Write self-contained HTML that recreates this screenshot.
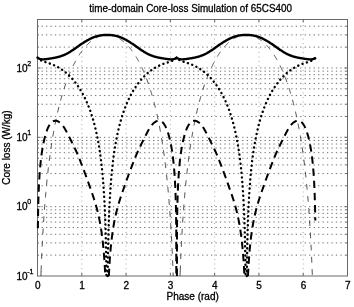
<!DOCTYPE html>
<html><head><meta charset="utf-8"><title>time-domain Core-loss Simulation of 65CS400</title>
<style>html,body{margin:0;padding:0;background:#fff;}body{width:354px;height:307px;overflow:hidden;}svg{display:block;filter:blur(0.35px);}text{font-family:"Liberation Sans",Arial,Helvetica,sans-serif;fill:#000;stroke:#000;stroke-width:0.3px;}</style></head><body>
<svg width="354" height="307" viewBox="0 0 354 307">
<rect x="0" y="0" width="354" height="307" fill="#fff"/>
<g stroke="#707070" stroke-width="1" stroke-dasharray="1.3 3.16" fill="none">
<path d="M41.51 255.13 H347.50"/>
<path d="M41.51 242.91 H347.50"/>
<path d="M41.51 234.25 H347.50"/>
<path d="M41.51 227.53 H347.50"/>
<path d="M41.51 222.04 H347.50"/>
<path d="M41.51 217.40 H347.50"/>
<path d="M41.51 213.38 H347.50"/>
<path d="M41.51 209.83 H347.50"/>
<path d="M41.51 206.66 H347.50"/>
<path d="M41.51 185.78 H347.50"/>
<path d="M41.51 173.57 H347.50"/>
<path d="M41.51 164.91 H347.50"/>
<path d="M41.51 158.19 H347.50"/>
<path d="M41.51 152.70 H347.50"/>
<path d="M41.51 148.05 H347.50"/>
<path d="M41.51 144.03 H347.50"/>
<path d="M41.51 140.49 H347.50"/>
<path d="M41.51 137.31 H347.50"/>
<path d="M41.51 116.44 H347.50"/>
<path d="M41.51 104.23 H347.50"/>
<path d="M41.51 95.56 H347.50"/>
<path d="M41.51 88.84 H347.50"/>
<path d="M41.51 83.35 H347.50"/>
<path d="M41.51 78.71 H347.50"/>
<path d="M41.51 74.69 H347.50"/>
<path d="M41.51 71.14 H347.50"/>
<path d="M41.51 67.97 H347.50"/>
<path d="M41.51 47.09 H347.50"/>
<path d="M41.51 34.88 H347.50"/>
<path d="M41.51 26.22 H347.50"/>
</g>
<g stroke="#aaa" stroke-width="1" stroke-dasharray="1 3.5" fill="none">
<path d="M81.79 20.50 V276.00"/>
<path d="M126.07 20.50 V276.00"/>
<path d="M170.36 20.50 V276.00"/>
<path d="M214.64 20.50 V276.00"/>
<path d="M258.93 20.50 V276.00"/>
<path d="M303.21 20.50 V276.00"/>
</g>
<g stroke="#686868" stroke-width="1" fill="none">
<rect x="37.50" y="19.50" width="310.00" height="256.50"/>
<path d="M81.79 276.00 v-3 M81.79 19.50 v3"/>
<path d="M126.07 276.00 v-3 M126.07 19.50 v3"/>
<path d="M170.36 276.00 v-3 M170.36 19.50 v3"/>
<path d="M214.64 276.00 v-3 M214.64 19.50 v3"/>
<path d="M258.93 276.00 v-3 M258.93 19.50 v3"/>
<path d="M303.21 276.00 v-3 M303.21 19.50 v3"/>
<path d="M37.50 255.13 h1.5 M347.50 255.13 h-1.5"/>
<path d="M37.50 242.91 h1.5 M347.50 242.91 h-1.5"/>
<path d="M37.50 234.25 h1.5 M347.50 234.25 h-1.5"/>
<path d="M37.50 227.53 h1.5 M347.50 227.53 h-1.5"/>
<path d="M37.50 222.04 h1.5 M347.50 222.04 h-1.5"/>
<path d="M37.50 217.40 h1.5 M347.50 217.40 h-1.5"/>
<path d="M37.50 213.38 h1.5 M347.50 213.38 h-1.5"/>
<path d="M37.50 209.83 h1.5 M347.50 209.83 h-1.5"/>
<path d="M37.50 206.66 h3.0 M347.50 206.66 h-3.0"/>
<path d="M37.50 185.78 h1.5 M347.50 185.78 h-1.5"/>
<path d="M37.50 173.57 h1.5 M347.50 173.57 h-1.5"/>
<path d="M37.50 164.91 h1.5 M347.50 164.91 h-1.5"/>
<path d="M37.50 158.19 h1.5 M347.50 158.19 h-1.5"/>
<path d="M37.50 152.70 h1.5 M347.50 152.70 h-1.5"/>
<path d="M37.50 148.05 h1.5 M347.50 148.05 h-1.5"/>
<path d="M37.50 144.03 h1.5 M347.50 144.03 h-1.5"/>
<path d="M37.50 140.49 h1.5 M347.50 140.49 h-1.5"/>
<path d="M37.50 137.31 h3.0 M347.50 137.31 h-3.0"/>
<path d="M37.50 116.44 h1.5 M347.50 116.44 h-1.5"/>
<path d="M37.50 104.23 h1.5 M347.50 104.23 h-1.5"/>
<path d="M37.50 95.56 h1.5 M347.50 95.56 h-1.5"/>
<path d="M37.50 88.84 h1.5 M347.50 88.84 h-1.5"/>
<path d="M37.50 83.35 h1.5 M347.50 83.35 h-1.5"/>
<path d="M37.50 78.71 h1.5 M347.50 78.71 h-1.5"/>
<path d="M37.50 74.69 h1.5 M347.50 74.69 h-1.5"/>
<path d="M37.50 71.14 h1.5 M347.50 71.14 h-1.5"/>
<path d="M37.50 67.97 h3.0 M347.50 67.97 h-3.0"/>
<path d="M37.50 47.09 h1.5 M347.50 47.09 h-1.5"/>
<path d="M37.50 34.88 h1.5 M347.50 34.88 h-1.5"/>
<path d="M37.50 26.22 h1.5 M347.50 26.22 h-1.5"/>
</g>
<g fill="none" stroke="#333" stroke-width="0.85" stroke-dashoffset="7.4">
<path d="M40.91 276.00 L40.98 274.13 L41.33 265.20 L41.67 257.04 L42.02 249.55 L42.37 242.61 L42.72 236.15 L43.07 230.12 L43.41 224.46 L43.76 219.12 L44.11 214.07 L44.46 209.29 L44.80 204.75 L45.15 200.42 L45.50 196.28 L45.85 192.33 L46.20 188.54 L46.54 184.91 L46.89 181.41 L47.24 178.05 L47.59 174.81 L47.93 171.68 L48.28 168.66 L48.63 165.73 L48.98 162.91 L49.33 160.17 L49.67 157.51 L50.02 154.93 L50.37 152.43 L50.72 150.00 L51.06 147.63 L51.41 145.33 L51.76 143.09 L52.11 140.90 L52.46 138.77 L52.80 136.70 L53.15 134.67 L53.50 132.70 L53.85 130.77 L54.20 128.88 L54.54 127.04 L54.89 125.24 L55.24 123.48 L55.59 121.75 L55.93 120.06 L56.28 118.41 L56.63 116.80 L56.98 115.21 L57.33 113.66 L57.67 112.14 L58.02 110.65 L58.37 109.18 L58.72 107.75 L59.06 106.34 L59.41 104.96 L59.76 103.61 L60.11 102.28 L60.46 100.97 L60.80 99.69 L61.15 98.43 L61.50 97.19 L61.85 95.98 L62.20 94.78 L62.54 93.61 L62.89 92.46 L63.24 91.32 L63.59 90.21 L63.93 89.12 L64.28 88.04 L64.63 86.98 L64.98 85.94 L65.33 84.91 L65.67 83.91 L66.02 82.92 L66.37 81.94 L66.72 80.98 L67.06 80.04 L67.41 79.11 L67.76 78.20 L68.11 77.30 L68.46 76.41 L68.80 75.54 L69.15 74.68 L69.50 73.84 L69.85 73.01 L70.20 72.19 L70.54 71.39 L70.89 70.60 L71.24 69.82 L71.59 69.05 L71.93 68.29 L72.28 67.55 L72.63 66.82 L72.98 66.10 L73.33 65.39 L73.67 64.69 L74.02 64.00 L74.37 63.32 L74.72 62.66 L75.06 62.00 L75.41 61.36 L75.76 60.72 L76.11 60.10 L76.46 59.48 L76.80 58.87 L77.15 58.28 L77.50 57.69 L77.85 57.11 L78.19 56.55 L78.54 55.99 L78.89 55.44 L79.24 54.90 L79.59 54.37 L79.93 53.84 L80.28 53.33 L80.63 52.82 L80.98 52.33 L81.33 51.84 L81.67 51.36 L82.02 50.88 L82.37 50.42 L82.72 49.96 L83.06 49.52 L83.41 49.07 L83.76 48.64 L84.11 48.22 L84.46 47.80 L84.80 47.39 L85.15 46.99 L85.50 46.59 L85.85 46.21 L86.19 45.83 L86.54 45.46 L86.89 45.09 L87.24 44.73 L87.59 44.38 L87.93 44.04 L88.28 43.70 L88.63 43.37 L88.98 43.05 L89.33 42.73 L89.67 42.42 L90.02 42.12 L90.37 41.83 L90.72 41.54 L91.06 41.25 L91.41 40.98 L91.76 40.71 L92.11 40.45 L92.46 40.19 L92.80 39.94 L93.15 39.70 L93.50 39.46 L93.85 39.23 L94.19 39.01 L94.54 38.79 L94.89 38.58 L95.24 38.38 L95.59 38.18 L95.93 37.98 L96.28 37.80 L96.63 37.62 L96.98 37.44 L97.32 37.27 L97.67 37.11 L98.02 36.96 L98.37 36.81 L98.72 36.66 L99.06 36.53 L99.41 36.39 L99.76 36.27 L100.11 36.15 L100.46 36.03 L100.80 35.93 L101.15 35.82 L101.50 35.73 L101.85 35.64 L102.19 35.55 L102.54 35.47 L102.89 35.40 L103.24 35.34 L103.59 35.27 L103.93 35.22 L104.28 35.17 L104.63 35.13 L104.98 35.09 L105.32 35.06 L105.67 35.03 L106.02 35.01 L106.37 35.00 L106.72 34.99 L107.06 34.98 L107.41 34.99 L107.76 35.00 L108.11 35.01 L108.46 35.03 L108.80 35.06 L109.15 35.09 L109.50 35.13 L109.85 35.17 L110.19 35.22 L110.54 35.27 L110.89 35.34 L111.24 35.40 L111.59 35.47 L111.93 35.55 L112.28 35.64 L112.63 35.73 L112.98 35.82 L113.32 35.93 L113.67 36.03 L114.02 36.15 L114.37 36.27 L114.72 36.39 L115.06 36.53 L115.41 36.66 L115.76 36.81 L116.11 36.96 L116.45 37.11 L116.80 37.27 L117.15 37.44 L117.50 37.62 L117.85 37.80 L118.19 37.98 L118.54 38.18 L118.89 38.38 L119.24 38.58 L119.59 38.79 L119.93 39.01 L120.28 39.23 L120.63 39.46 L120.98 39.70 L121.32 39.94 L121.67 40.19 L122.02 40.45 L122.37 40.71 L122.72 40.98 L123.06 41.25 L123.41 41.54 L123.76 41.83 L124.11 42.12 L124.45 42.42 L124.80 42.73 L125.15 43.05 L125.50 43.37 L125.85 43.70 L126.19 44.04 L126.54 44.38 L126.89 44.73 L127.24 45.09 L127.59 45.46 L127.93 45.83 L128.28 46.21 L128.63 46.59 L128.98 46.99 L129.32 47.39 L129.67 47.80 L130.02 48.22 L130.37 48.64 L130.72 49.07 L131.06 49.52 L131.41 49.96 L131.76 50.42 L132.11 50.88 L132.45 51.36 L132.80 51.84 L133.15 52.33 L133.50 52.82 L133.85 53.33 L134.19 53.84 L134.54 54.37 L134.89 54.90 L135.24 55.44 L135.59 55.99 L135.93 56.55 L136.28 57.11 L136.63 57.69 L136.98 58.28 L137.32 58.87 L137.67 59.48 L138.02 60.10 L138.37 60.72 L138.72 61.36 L139.06 62.00 L139.41 62.66 L139.76 63.32 L140.11 64.00 L140.45 64.69 L140.80 65.39 L141.15 66.10 L141.50 66.82 L141.85 67.55 L142.19 68.29 L142.54 69.05 L142.89 69.82 L143.24 70.60 L143.58 71.39 L143.93 72.19 L144.28 73.01 L144.63 73.84 L144.98 74.68 L145.32 75.54 L145.67 76.41 L146.02 77.30 L146.37 78.20 L146.72 79.11 L147.06 80.04 L147.41 80.98 L147.76 81.94 L148.11 82.92 L148.45 83.91 L148.80 84.91 L149.15 85.94 L149.50 86.98 L149.85 88.04 L150.19 89.12 L150.54 90.21 L150.89 91.32 L151.24 92.46 L151.58 93.61 L151.93 94.78 L152.28 95.98 L152.63 97.19 L152.98 98.43 L153.32 99.69 L153.67 100.97 L154.02 102.28 L154.37 103.61 L154.72 104.96 L155.06 106.34 L155.41 107.75 L155.76 109.18 L156.11 110.65 L156.45 112.14 L156.80 113.66 L157.15 115.21 L157.50 116.80 L157.85 118.41 L158.19 120.06 L158.54 121.75 L158.89 123.48 L159.24 125.24 L159.58 127.04 L159.93 128.88 L160.28 130.77 L160.63 132.70 L160.98 134.67 L161.32 136.70 L161.67 138.77 L162.02 140.90 L162.37 143.09 L162.71 145.33 L163.06 147.63 L163.41 150.00 L163.76 152.43 L164.11 154.93 L164.45 157.51 L164.80 160.17 L165.15 162.91 L165.50 165.73 L165.85 168.66 L166.19 171.68 L166.54 174.81 L166.89 178.05 L167.24 181.41 L167.58 184.91 L167.93 188.54 L168.28 192.33 L168.63 196.28 L168.98 200.42 L169.32 204.75 L169.67 209.29 L170.02 214.07 L170.37 219.12 L170.71 224.46 L171.06 230.12 L171.41 236.15 L171.76 242.61 L172.11 249.55 L172.45 257.04 L172.80 265.20 L173.15 274.13 L173.22 276.00" stroke-dasharray="5.8 6.48"/>
<path d="M180.04 276.00 L180.11 274.13 L180.45 265.20 L180.80 257.04 L181.15 249.55 L181.50 242.61 L181.84 236.15 L182.19 230.12 L182.54 224.46 L182.89 219.12 L183.24 214.07 L183.58 209.29 L183.93 204.75 L184.28 200.42 L184.63 196.28 L184.98 192.33 L185.32 188.54 L185.67 184.91 L186.02 181.41 L186.37 178.05 L186.71 174.81 L187.06 171.68 L187.41 168.66 L187.76 165.73 L188.11 162.91 L188.45 160.17 L188.80 157.51 L189.15 154.93 L189.50 152.43 L189.84 150.00 L190.19 147.63 L190.54 145.33 L190.89 143.09 L191.24 140.90 L191.58 138.77 L191.93 136.70 L192.28 134.67 L192.63 132.70 L192.98 130.77 L193.32 128.88 L193.67 127.04 L194.02 125.24 L194.37 123.48 L194.71 121.75 L195.06 120.06 L195.41 118.41 L195.76 116.80 L196.11 115.21 L196.45 113.66 L196.80 112.14 L197.15 110.65 L197.50 109.18 L197.84 107.75 L198.19 106.34 L198.54 104.96 L198.89 103.61 L199.24 102.28 L199.58 100.97 L199.93 99.69 L200.28 98.43 L200.63 97.19 L200.98 95.98 L201.32 94.78 L201.67 93.61 L202.02 92.46 L202.37 91.32 L202.71 90.21 L203.06 89.12 L203.41 88.04 L203.76 86.98 L204.11 85.94 L204.45 84.91 L204.80 83.91 L205.15 82.92 L205.50 81.94 L205.84 80.98 L206.19 80.04 L206.54 79.11 L206.89 78.20 L207.24 77.30 L207.58 76.41 L207.93 75.54 L208.28 74.68 L208.63 73.84 L208.97 73.01 L209.32 72.19 L209.67 71.39 L210.02 70.60 L210.37 69.82 L210.71 69.05 L211.06 68.29 L211.41 67.55 L211.76 66.82 L212.11 66.10 L212.45 65.39 L212.80 64.69 L213.15 64.00 L213.50 63.32 L213.84 62.66 L214.19 62.00 L214.54 61.36 L214.89 60.72 L215.24 60.10 L215.58 59.48 L215.93 58.87 L216.28 58.28 L216.63 57.69 L216.97 57.11 L217.32 56.55 L217.67 55.99 L218.02 55.44 L218.37 54.90 L218.71 54.37 L219.06 53.84 L219.41 53.33 L219.76 52.82 L220.11 52.33 L220.45 51.84 L220.80 51.36 L221.15 50.88 L221.50 50.42 L221.84 49.96 L222.19 49.52 L222.54 49.07 L222.89 48.64 L223.24 48.22 L223.58 47.80 L223.93 47.39 L224.28 46.99 L224.63 46.59 L224.97 46.21 L225.32 45.83 L225.67 45.46 L226.02 45.09 L226.37 44.73 L226.71 44.38 L227.06 44.04 L227.41 43.70 L227.76 43.37 L228.10 43.05 L228.45 42.73 L228.80 42.42 L229.15 42.12 L229.50 41.83 L229.84 41.54 L230.19 41.25 L230.54 40.98 L230.89 40.71 L231.24 40.45 L231.58 40.19 L231.93 39.94 L232.28 39.70 L232.63 39.46 L232.97 39.23 L233.32 39.01 L233.67 38.79 L234.02 38.58 L234.37 38.38 L234.71 38.18 L235.06 37.98 L235.41 37.80 L235.76 37.62 L236.10 37.44 L236.45 37.27 L236.80 37.11 L237.15 36.96 L237.50 36.81 L237.84 36.66 L238.19 36.53 L238.54 36.39 L238.89 36.27 L239.24 36.15 L239.58 36.03 L239.93 35.93 L240.28 35.82 L240.63 35.73 L240.97 35.64 L241.32 35.55 L241.67 35.47 L242.02 35.40 L242.37 35.34 L242.71 35.27 L243.06 35.22 L243.41 35.17 L243.76 35.13 L244.10 35.09 L244.45 35.06 L244.80 35.03 L245.15 35.01 L245.50 35.00 L245.84 34.99 L246.19 34.98 L246.54 34.99 L246.89 35.00 L247.23 35.01 L247.58 35.03 L247.93 35.06 L248.28 35.09 L248.63 35.13 L248.97 35.17 L249.32 35.22 L249.67 35.27 L250.02 35.34 L250.37 35.40 L250.71 35.47 L251.06 35.55 L251.41 35.64 L251.76 35.73 L252.10 35.82 L252.45 35.93 L252.80 36.03 L253.15 36.15 L253.50 36.27 L253.84 36.39 L254.19 36.53 L254.54 36.66 L254.89 36.81 L255.23 36.96 L255.58 37.11 L255.93 37.27 L256.28 37.44 L256.63 37.62 L256.97 37.80 L257.32 37.98 L257.67 38.18 L258.02 38.38 L258.37 38.58 L258.71 38.79 L259.06 39.01 L259.41 39.23 L259.76 39.46 L260.10 39.70 L260.45 39.94 L260.80 40.19 L261.15 40.45 L261.50 40.71 L261.84 40.98 L262.19 41.25 L262.54 41.54 L262.89 41.83 L263.23 42.12 L263.58 42.42 L263.93 42.73 L264.28 43.05 L264.63 43.37 L264.97 43.70 L265.32 44.04 L265.67 44.38 L266.02 44.73 L266.37 45.09 L266.71 45.46 L267.06 45.83 L267.41 46.21 L267.76 46.59 L268.10 46.99 L268.45 47.39 L268.80 47.80 L269.15 48.22 L269.50 48.64 L269.84 49.07 L270.19 49.52 L270.54 49.96 L270.89 50.42 L271.23 50.88 L271.58 51.36 L271.93 51.84 L272.28 52.33 L272.63 52.82 L272.97 53.33 L273.32 53.84 L273.67 54.37 L274.02 54.90 L274.36 55.44 L274.71 55.99 L275.06 56.55 L275.41 57.11 L275.76 57.69 L276.10 58.28 L276.45 58.87 L276.80 59.48 L277.15 60.10 L277.50 60.72 L277.84 61.36 L278.19 62.00 L278.54 62.66 L278.89 63.32 L279.23 64.00 L279.58 64.69 L279.93 65.39 L280.28 66.10 L280.63 66.82 L280.97 67.55 L281.32 68.29 L281.67 69.05 L282.02 69.82 L282.36 70.60 L282.71 71.39 L283.06 72.19 L283.41 73.01 L283.76 73.84 L284.10 74.68 L284.45 75.54 L284.80 76.41 L285.15 77.30 L285.50 78.20 L285.84 79.11 L286.19 80.04 L286.54 80.98 L286.89 81.94 L287.23 82.92 L287.58 83.91 L287.93 84.91 L288.28 85.94 L288.63 86.98 L288.97 88.04 L289.32 89.12 L289.67 90.21 L290.02 91.32 L290.36 92.46 L290.71 93.61 L291.06 94.78 L291.41 95.98 L291.76 97.19 L292.10 98.43 L292.45 99.69 L292.80 100.97 L293.15 102.28 L293.49 103.61 L293.84 104.96 L294.19 106.34 L294.54 107.75 L294.89 109.18 L295.23 110.65 L295.58 112.14 L295.93 113.66 L296.28 115.21 L296.63 116.80 L296.97 118.41 L297.32 120.06 L297.67 121.75 L298.02 123.48 L298.36 125.24 L298.71 127.04 L299.06 128.88 L299.41 130.77 L299.76 132.70 L300.10 134.67 L300.45 136.70 L300.80 138.77 L301.15 140.90 L301.49 143.09 L301.84 145.33 L302.19 147.63 L302.54 150.00 L302.89 152.43 L303.23 154.93 L303.58 157.51 L303.93 160.17 L304.28 162.91 L304.63 165.73 L304.97 168.66 L305.32 171.68 L305.67 174.81 L306.02 178.05 L306.36 181.41 L306.71 184.91 L307.06 188.54 L307.41 192.33 L307.76 196.28 L308.10 200.42 L308.45 204.75 L308.80 209.29 L309.15 214.07 L309.49 219.12 L309.84 224.46 L310.19 230.12 L310.54 236.15 L310.89 242.61 L311.23 249.55 L311.58 257.04 L311.93 265.20 L312.28 274.13 L312.34 276.00" stroke-dasharray="5.8 6.4"/>
</g>
<path d="M40.91 276.00 L40.98 274.13 L41.10 271.00" fill="none" stroke="#333" stroke-width="0.85"/>
<path d="M180.04 276.00 L180.11 274.13 L180.23 271.00" fill="none" stroke="#333" stroke-width="0.85"/>
<g fill="none" stroke="#000" stroke-width="2.4" stroke-dasharray="0.1 4.5" stroke-linecap="round">
<path d="M37.50 57.61 L37.85 57.99 L38.20 58.34 L38.54 58.67 L38.89 58.97 L39.24 59.24 L39.59 59.50 L39.93 59.73 L40.28 59.95 L40.63 60.15 L40.98 60.34 L41.33 60.52 L41.67 60.69 L42.02 60.85 L42.37 60.99 L42.72 61.14 L43.07 61.27 L43.41 61.40 L43.76 61.53 L44.11 61.65 L44.46 61.77 L44.80 61.88 L45.15 62.00 L45.50 62.11 L45.85 62.22 L46.20 62.33 L46.54 62.44 L46.89 62.55 L47.24 62.66 L47.59 62.77 L47.93 62.89 L48.28 63.00 L48.63 63.11 L48.98 63.23 L49.33 63.35 L49.67 63.47 L50.02 63.59 L50.37 63.72 L50.72 63.84 L51.06 63.97 L51.41 64.11 L51.76 64.24 L52.11 64.38 L52.46 64.52 L52.80 64.66 L53.15 64.81 L53.50 64.96 L53.85 65.11 L54.20 65.26 L54.54 65.42 L54.89 65.58 L55.24 65.75 L55.59 65.92 L55.93 66.09 L56.28 66.27 L56.63 66.45 L56.98 66.63 L57.33 66.81 L57.67 67.00 L58.02 67.20 L58.37 67.39 L58.72 67.60 L59.06 67.80 L59.41 68.01 L59.76 68.22 L60.11 68.44 L60.46 68.66 L60.80 68.88 L61.15 69.11 L61.50 69.34 L61.85 69.58 L62.20 69.82 L62.54 70.07 L62.89 70.32 L63.24 70.57 L63.59 70.83 L63.93 71.09 L64.28 71.36 L64.63 71.63 L64.98 71.90 L65.33 72.18 L65.67 72.47 L66.02 72.76 L66.37 73.05 L66.72 73.35 L67.06 73.66 L67.41 73.97 L67.76 74.28 L68.11 74.60 L68.46 74.92 L68.80 75.25 L69.15 75.59 L69.50 75.93 L69.85 76.28 L70.20 76.63 L70.54 76.98 L70.89 77.35 L71.24 77.71 L71.59 78.09 L71.93 78.47 L72.28 78.86 L72.63 79.25 L72.98 79.65 L73.33 80.05 L73.67 80.46 L74.02 80.88 L74.37 81.30 L74.72 81.73 L75.06 82.17 L75.41 82.62 L75.76 83.07 L76.11 83.53 L76.46 83.99 L76.80 84.47 L77.15 84.95 L77.50 85.44 L77.85 85.94 L78.19 86.44 L78.54 86.96 L78.89 87.48 L79.24 88.01 L79.59 88.55 L79.93 89.10 L80.28 89.66 L80.63 90.23 L80.98 90.80 L81.33 91.39 L81.67 91.99 L82.02 92.60 L82.37 93.21 L82.72 93.84 L83.06 94.48 L83.41 95.14 L83.76 95.80 L84.11 96.48 L84.46 97.16 L84.80 97.87 L85.15 98.58 L85.50 99.31 L85.85 100.05 L86.19 100.81 L86.54 101.58 L86.89 102.36 L87.24 103.17 L87.59 103.98 L87.93 104.82 L88.28 105.67 L88.63 106.54 L88.98 107.43 L89.33 108.34 L89.67 109.27 L90.02 110.22 L90.37 111.19 L90.72 112.19 L91.06 113.20 L91.41 114.25 L91.76 115.31 L92.11 116.41 L92.46 117.53 L92.80 118.68 L93.15 119.86 L93.50 121.08 L93.85 122.32 L94.19 123.61 L94.54 124.93 L94.89 126.29 L95.24 127.69 L95.59 129.13 L95.93 130.62 L96.28 132.16 L96.63 133.76 L96.98 135.41 L97.32 137.12 L97.67 138.89 L98.02 140.73 L98.37 142.65 L98.72 144.65 L99.06 146.73 L99.41 148.91 L99.76 151.19 L100.11 153.59 L100.46 156.11 L100.80 158.77 L101.15 161.58 L101.50 164.57 L101.85 167.75 L102.19 171.15 L102.54 174.81 L102.89 178.76 L103.24 183.06 L103.59 187.77 L103.93 192.98 L104.28 198.81 L104.63 205.42 L104.98 213.05 L105.32 222.07 L105.67 233.12 L106.02 247.37 L106.37 267.46 L106.45 276.00"/>
<path d="M107.67 276.00 L107.76 267.46 L108.11 247.37 L108.46 233.12 L108.80 222.07 L109.15 213.05 L109.50 205.42 L109.85 198.81 L110.19 192.98 L110.54 187.77 L110.89 183.06 L111.24 178.76 L111.59 174.81 L111.93 171.15 L112.28 167.75 L112.63 164.57 L112.98 161.58 L113.32 158.77 L113.67 156.11 L114.02 153.59 L114.37 151.19 L114.72 148.91 L115.06 146.73 L115.41 144.65 L115.76 142.65 L116.11 140.73 L116.45 138.89 L116.80 137.12 L117.15 135.41 L117.50 133.76 L117.85 132.16 L118.19 130.62 L118.54 129.13 L118.89 127.69 L119.24 126.29 L119.59 124.93 L119.93 123.61 L120.28 122.32 L120.63 121.08 L120.98 119.86 L121.32 118.68 L121.67 117.53 L122.02 116.41 L122.37 115.31 L122.72 114.25 L123.06 113.20 L123.41 112.19 L123.76 111.19 L124.11 110.22 L124.45 109.27 L124.80 108.34 L125.15 107.43 L125.50 106.54 L125.85 105.67 L126.19 104.82 L126.54 103.98 L126.89 103.17 L127.24 102.36 L127.59 101.58 L127.93 100.81 L128.28 100.05 L128.63 99.31 L128.98 98.58 L129.32 97.87 L129.67 97.16 L130.02 96.48 L130.37 95.80 L130.72 95.14 L131.06 94.48 L131.41 93.84 L131.76 93.21 L132.11 92.60 L132.45 91.99 L132.80 91.39 L133.15 90.80 L133.50 90.23 L133.85 89.66 L134.19 89.10 L134.54 88.55 L134.89 88.01 L135.24 87.48 L135.59 86.96 L135.93 86.44 L136.28 85.94 L136.63 85.44 L136.98 84.95 L137.32 84.47 L137.67 83.99 L138.02 83.53 L138.37 83.07 L138.72 82.62 L139.06 82.17 L139.41 81.73 L139.76 81.30 L140.11 80.88 L140.45 80.46 L140.80 80.05 L141.15 79.65 L141.50 79.25 L141.85 78.86 L142.19 78.47 L142.54 78.09 L142.89 77.71 L143.24 77.35 L143.58 76.98 L143.93 76.63 L144.28 76.28 L144.63 75.93 L144.98 75.59 L145.32 75.25 L145.67 74.92 L146.02 74.60 L146.37 74.28 L146.72 73.97 L147.06 73.66 L147.41 73.35 L147.76 73.05 L148.11 72.76 L148.45 72.47 L148.80 72.18 L149.15 71.90 L149.50 71.63 L149.85 71.36 L150.19 71.09 L150.54 70.83 L150.89 70.57 L151.24 70.32 L151.58 70.07 L151.93 69.82 L152.28 69.58 L152.63 69.34 L152.98 69.11 L153.32 68.88 L153.67 68.66 L154.02 68.44 L154.37 68.22 L154.72 68.01 L155.06 67.80 L155.41 67.60 L155.76 67.39 L156.11 67.20 L156.45 67.00 L156.80 66.81 L157.15 66.63 L157.50 66.45 L157.85 66.27 L158.19 66.09 L158.54 65.92 L158.89 65.75 L159.24 65.58 L159.58 65.42 L159.93 65.26 L160.28 65.11 L160.63 64.96 L160.98 64.81 L161.32 64.66 L161.67 64.52 L162.02 64.38 L162.37 64.24 L162.71 64.11 L163.06 63.97 L163.41 63.84 L163.76 63.72 L164.11 63.59 L164.45 63.47 L164.80 63.35 L165.15 63.23 L165.50 63.11 L165.85 63.00 L166.19 62.89 L166.54 62.77 L166.89 62.66 L167.24 62.55 L167.58 62.44 L167.93 62.33 L168.28 62.22 L168.63 62.11 L168.98 62.00 L169.32 61.88 L169.67 61.77 L170.02 61.65 L170.37 61.53 L170.71 61.40 L171.06 61.27 L171.41 61.14 L171.76 60.99 L172.11 60.85 L172.45 60.69 L172.80 60.52 L173.15 60.34 L173.50 60.15 L173.85 59.95 L174.19 59.73 L174.54 59.50 L174.89 59.24 L175.24 58.97 L175.58 58.67 L175.93 58.34 L176.28 57.99 L176.63 57.61 L176.98 57.99 L177.32 58.34 L177.67 58.67 L178.02 58.97 L178.37 59.24 L178.71 59.50 L179.06 59.73 L179.41 59.95 L179.76 60.15 L180.11 60.34 L180.45 60.52 L180.80 60.69 L181.15 60.85 L181.50 60.99 L181.84 61.14 L182.19 61.27 L182.54 61.40 L182.89 61.53 L183.24 61.65 L183.58 61.77 L183.93 61.88 L184.28 62.00 L184.63 62.11 L184.98 62.22 L185.32 62.33 L185.67 62.44 L186.02 62.55 L186.37 62.66 L186.71 62.77 L187.06 62.89 L187.41 63.00 L187.76 63.11 L188.11 63.23 L188.45 63.35 L188.80 63.47 L189.15 63.59 L189.50 63.72 L189.84 63.84 L190.19 63.97 L190.54 64.11 L190.89 64.24 L191.24 64.38 L191.58 64.52 L191.93 64.66 L192.28 64.81 L192.63 64.96 L192.98 65.11 L193.32 65.26 L193.67 65.42 L194.02 65.58 L194.37 65.75 L194.71 65.92 L195.06 66.09 L195.41 66.27 L195.76 66.45 L196.11 66.63 L196.45 66.81 L196.80 67.00 L197.15 67.20 L197.50 67.39 L197.84 67.60 L198.19 67.80 L198.54 68.01 L198.89 68.22 L199.24 68.44 L199.58 68.66 L199.93 68.88 L200.28 69.11 L200.63 69.34 L200.98 69.58 L201.32 69.82 L201.67 70.07 L202.02 70.32 L202.37 70.57 L202.71 70.83 L203.06 71.09 L203.41 71.36 L203.76 71.63 L204.11 71.90 L204.45 72.18 L204.80 72.47 L205.15 72.76 L205.50 73.05 L205.84 73.35 L206.19 73.66 L206.54 73.97 L206.89 74.28 L207.24 74.60 L207.58 74.92 L207.93 75.25 L208.28 75.59 L208.63 75.93 L208.97 76.28 L209.32 76.63 L209.67 76.98 L210.02 77.35 L210.37 77.71 L210.71 78.09 L211.06 78.47 L211.41 78.86 L211.76 79.25 L212.11 79.65 L212.45 80.05 L212.80 80.46 L213.15 80.88 L213.50 81.30 L213.84 81.73 L214.19 82.17 L214.54 82.62 L214.89 83.07 L215.24 83.53 L215.58 83.99 L215.93 84.47 L216.28 84.95 L216.63 85.44 L216.97 85.94 L217.32 86.44 L217.67 86.96 L218.02 87.48 L218.37 88.01 L218.71 88.55 L219.06 89.10 L219.41 89.66 L219.76 90.23 L220.11 90.80 L220.45 91.39 L220.80 91.99 L221.15 92.60 L221.50 93.21 L221.84 93.84 L222.19 94.48 L222.54 95.14 L222.89 95.80 L223.24 96.48 L223.58 97.16 L223.93 97.87 L224.28 98.58 L224.63 99.31 L224.97 100.05 L225.32 100.81 L225.67 101.58 L226.02 102.36 L226.37 103.17 L226.71 103.98 L227.06 104.82 L227.41 105.67 L227.76 106.54 L228.10 107.43 L228.45 108.34 L228.80 109.27 L229.15 110.22 L229.50 111.19 L229.84 112.19 L230.19 113.20 L230.54 114.25 L230.89 115.31 L231.24 116.41 L231.58 117.53 L231.93 118.68 L232.28 119.86 L232.63 121.08 L232.97 122.32 L233.32 123.61 L233.67 124.93 L234.02 126.29 L234.37 127.69 L234.71 129.13 L235.06 130.62 L235.41 132.16 L235.76 133.76 L236.10 135.41 L236.45 137.12 L236.80 138.89 L237.15 140.73 L237.50 142.65 L237.84 144.65 L238.19 146.73 L238.54 148.91 L238.89 151.19 L239.24 153.59 L239.58 156.11 L239.93 158.77 L240.28 161.58 L240.63 164.57 L240.97 167.75 L241.32 171.15 L241.67 174.81 L242.02 178.76 L242.37 183.06 L242.71 187.77 L243.06 192.98 L243.41 198.81 L243.76 205.42 L244.10 213.05 L244.45 222.07 L244.80 233.12 L245.15 247.37 L245.50 267.46 L245.58 276.00"/>
<path d="M246.80 276.00 L246.89 267.46 L247.23 247.37 L247.58 233.12 L247.93 222.07 L248.28 213.05 L248.63 205.42 L248.97 198.81 L249.32 192.98 L249.67 187.77 L250.02 183.06 L250.37 178.76 L250.71 174.81 L251.06 171.15 L251.41 167.75 L251.76 164.57 L252.10 161.58 L252.45 158.77 L252.80 156.11 L253.15 153.59 L253.50 151.19 L253.84 148.91 L254.19 146.73 L254.54 144.65 L254.89 142.65 L255.23 140.73 L255.58 138.89 L255.93 137.12 L256.28 135.41 L256.63 133.76 L256.97 132.16 L257.32 130.62 L257.67 129.13 L258.02 127.69 L258.37 126.29 L258.71 124.93 L259.06 123.61 L259.41 122.32 L259.76 121.08 L260.10 119.86 L260.45 118.68 L260.80 117.53 L261.15 116.41 L261.50 115.31 L261.84 114.25 L262.19 113.20 L262.54 112.19 L262.89 111.19 L263.23 110.22 L263.58 109.27 L263.93 108.34 L264.28 107.43 L264.63 106.54 L264.97 105.67 L265.32 104.82 L265.67 103.98 L266.02 103.17 L266.37 102.36 L266.71 101.58 L267.06 100.81 L267.41 100.05 L267.76 99.31 L268.10 98.58 L268.45 97.87 L268.80 97.16 L269.15 96.48 L269.50 95.80 L269.84 95.14 L270.19 94.48 L270.54 93.84 L270.89 93.21 L271.23 92.60 L271.58 91.99 L271.93 91.39 L272.28 90.80 L272.63 90.23 L272.97 89.66 L273.32 89.10 L273.67 88.55 L274.02 88.01 L274.36 87.48 L274.71 86.96 L275.06 86.44 L275.41 85.94 L275.76 85.44 L276.10 84.95 L276.45 84.47 L276.80 83.99 L277.15 83.53 L277.50 83.07 L277.84 82.62 L278.19 82.17 L278.54 81.73 L278.89 81.30 L279.23 80.88 L279.58 80.46 L279.93 80.05 L280.28 79.65 L280.63 79.25 L280.97 78.86 L281.32 78.47 L281.67 78.09 L282.02 77.71 L282.36 77.35 L282.71 76.98 L283.06 76.63 L283.41 76.28 L283.76 75.93 L284.10 75.59 L284.45 75.25 L284.80 74.92 L285.15 74.60 L285.50 74.28 L285.84 73.97 L286.19 73.66 L286.54 73.35 L286.89 73.05 L287.23 72.76 L287.58 72.47 L287.93 72.18 L288.28 71.90 L288.63 71.63 L288.97 71.36 L289.32 71.09 L289.67 70.83 L290.02 70.57 L290.36 70.32 L290.71 70.07 L291.06 69.82 L291.41 69.58 L291.76 69.34 L292.10 69.11 L292.45 68.88 L292.80 68.66 L293.15 68.44 L293.49 68.22 L293.84 68.01 L294.19 67.80 L294.54 67.60 L294.89 67.39 L295.23 67.20 L295.58 67.00 L295.93 66.81 L296.28 66.63 L296.63 66.45 L296.97 66.27 L297.32 66.09 L297.67 65.92 L298.02 65.75 L298.36 65.58 L298.71 65.42 L299.06 65.26 L299.41 65.11 L299.76 64.96 L300.10 64.81 L300.45 64.66 L300.80 64.52 L301.15 64.38 L301.49 64.24 L301.84 64.11 L302.19 63.97 L302.54 63.84 L302.89 63.72 L303.23 63.59 L303.58 63.47 L303.93 63.35 L304.28 63.23 L304.63 63.11 L304.97 63.00 L305.32 62.89 L305.67 62.77 L306.02 62.66 L306.36 62.55 L306.71 62.44 L307.06 62.33 L307.41 62.22 L307.76 62.11 L308.10 62.00 L308.45 61.88 L308.80 61.77 L309.15 61.65 L309.49 61.53 L309.84 61.40 L310.19 61.27 L310.54 61.14 L310.89 60.99 L311.23 60.85 L311.58 60.69 L311.93 60.52 L312.28 60.34 L312.62 60.15 L312.97 59.95 L313.32 59.73 L313.67 59.50 L314.02 59.24 L314.36 58.97 L314.71 58.67 L315.06 58.34 L315.41 57.99 L315.76 57.61"/>
</g>
<g fill="none" stroke="#000" stroke-width="2" stroke-dasharray="7.4 4.8">
<path d="M37.85 228.33 L38.20 207.46 L38.54 195.26 L38.89 186.60 L39.24 179.90 L39.59 174.42 L39.93 169.80 L40.28 165.80 L40.63 162.28 L40.98 159.14 L41.33 156.30 L41.67 153.71 L42.02 151.34 L42.37 149.15 L42.72 147.12 L43.07 145.24 L43.41 143.47 L43.76 141.82 L44.11 140.27 L44.46 138.81 L44.80 137.42 L45.15 136.11 L45.50 134.87 L45.85 133.69 L46.20 132.57 L46.54 131.51 L46.89 130.51 L47.24 129.59 L47.59 128.74 L47.93 127.94 L48.28 127.20 L48.63 126.51 L48.98 125.87 L49.33 125.27 L49.67 124.71 L50.02 124.19 L50.37 123.69 L50.72 123.22 L51.06 122.79 L51.41 122.41 L51.76 122.09 L52.11 121.81 L52.46 121.57 L52.80 121.37 L53.15 121.21 L53.50 121.08 L53.85 120.97 L54.20 120.90 L54.54 120.84 L54.89 120.79 L55.24 120.77 L55.59 120.76 L55.93 120.78 L56.28 120.82 L56.63 120.90 L56.98 120.99 L57.33 121.11 L57.67 121.25 L58.02 121.42 L58.37 121.60 L58.72 121.81 L59.06 122.03 L59.41 122.27 L59.76 122.53 L60.11 122.81 L60.46 123.12 L60.80 123.45 L61.15 123.80 L61.50 124.17 L61.85 124.56 L62.20 124.96 L62.54 125.39 L62.89 125.84 L63.24 126.30 L63.59 126.79 L63.93 127.29 L64.28 127.80 L64.63 128.35 L64.98 128.93 L65.33 129.53 L65.67 130.15 L66.02 130.79 L66.37 131.45 L66.72 132.11 L67.06 132.79 L67.41 133.47 L67.76 134.14 L68.11 134.82 L68.46 135.49 L68.80 136.16 L69.15 136.84 L69.50 137.52 L69.85 138.20 L70.20 138.89 L70.54 139.59 L70.89 140.29 L71.24 140.99 L71.59 141.70 L71.93 142.41 L72.28 143.12 L72.63 143.83 L72.98 144.54 L73.33 145.25 L73.67 145.96 L74.02 146.67 L74.37 147.38 L74.72 148.10 L75.06 148.82 L75.41 149.55 L75.76 150.28 L76.11 151.03 L76.46 151.78 L76.80 152.55 L77.15 153.33 L77.50 154.13 L77.85 154.94 L78.19 155.78 L78.54 156.62 L78.89 157.48 L79.24 158.35 L79.59 159.23 L79.93 160.11 L80.28 161.00 L80.63 161.89 L80.98 162.78 L81.33 163.68 L81.67 164.57 L82.02 165.46 L82.37 166.36 L82.72 167.27 L83.06 168.18 L83.41 169.10 L83.76 170.03 L84.11 170.96 L84.46 171.90 L84.80 172.83 L85.15 173.77 L85.50 174.70 L85.85 175.64 L86.19 176.57 L86.54 177.51 L86.89 178.47 L87.24 179.44 L87.59 180.42 L87.93 181.40 L88.28 182.40 L88.63 183.39 L88.98 184.38 L89.33 185.38 L89.67 186.36 L90.02 187.34 L90.37 188.31 L90.72 189.27 L91.06 190.23 L91.41 191.21 L91.76 192.21 L92.11 193.22 L92.46 194.24 L92.80 195.27 L93.15 196.32 L93.50 197.38 L93.85 198.46 L94.19 199.55 L94.54 200.64 L94.89 201.76 L95.24 202.89 L95.59 204.05 L95.93 205.24 L96.28 206.48 L96.63 207.75 L96.98 209.07 L97.32 210.43 L97.67 211.83 L98.02 213.29 L98.37 214.79 L98.72 216.36 L99.06 217.98 L99.41 219.67 L99.76 221.43 L100.11 223.29 L100.46 225.24 L100.80 227.31 L101.15 229.50 L101.50 231.83 L101.85 234.32 L102.19 236.98 L102.54 239.84 L102.89 242.94 L103.24 246.32 L103.59 250.02 L103.93 254.12 L104.28 258.71 L104.63 263.92 L104.98 269.94 L105.27 276.00"/>
<path d="M108.85 276.00 L109.15 269.94 L109.50 263.92 L109.85 258.71 L110.19 254.12 L110.54 250.02 L110.89 246.32 L111.24 242.94 L111.59 239.84 L111.93 236.98 L112.28 234.32 L112.63 231.83 L112.98 229.50 L113.32 227.31 L113.67 225.24 L114.02 223.29 L114.37 221.43 L114.72 219.67 L115.06 217.98 L115.41 216.36 L115.76 214.79 L116.11 213.29 L116.45 211.83 L116.80 210.43 L117.15 209.07 L117.50 207.75 L117.85 206.48 L118.19 205.24 L118.54 204.05 L118.89 202.89 L119.24 201.76 L119.59 200.64 L119.93 199.55 L120.28 198.46 L120.63 197.38 L120.98 196.32 L121.32 195.27 L121.67 194.24 L122.02 193.22 L122.37 192.21 L122.72 191.21 L123.06 190.23 L123.41 189.27 L123.76 188.31 L124.11 187.34 L124.45 186.36 L124.80 185.38 L125.15 184.38 L125.50 183.39 L125.85 182.40 L126.19 181.40 L126.54 180.42 L126.89 179.44 L127.24 178.47 L127.59 177.51 L127.93 176.57 L128.28 175.64 L128.63 174.70 L128.98 173.77 L129.32 172.83 L129.67 171.90 L130.02 170.96 L130.37 170.03 L130.72 169.10 L131.06 168.18 L131.41 167.27 L131.76 166.36 L132.11 165.46 L132.45 164.57 L132.80 163.68 L133.15 162.78 L133.50 161.89 L133.85 161.00 L134.19 160.11 L134.54 159.23 L134.89 158.35 L135.24 157.48 L135.59 156.62 L135.93 155.78 L136.28 154.94 L136.63 154.13 L136.98 153.33 L137.32 152.55 L137.67 151.78 L138.02 151.03 L138.37 150.28 L138.72 149.55 L139.06 148.82 L139.41 148.10 L139.76 147.38 L140.11 146.67 L140.45 145.96 L140.80 145.25 L141.15 144.54 L141.50 143.83 L141.85 143.12 L142.19 142.41 L142.54 141.70 L142.89 140.99 L143.24 140.29 L143.58 139.59 L143.93 138.89 L144.28 138.20 L144.63 137.52 L144.98 136.84 L145.32 136.16 L145.67 135.49 L146.02 134.82 L146.37 134.14 L146.72 133.47 L147.06 132.79 L147.41 132.11 L147.76 131.45 L148.11 130.79 L148.45 130.15 L148.80 129.53 L149.15 128.93 L149.50 128.35 L149.85 127.80 L150.19 127.29 L150.54 126.79 L150.89 126.30 L151.24 125.84 L151.58 125.39 L151.93 124.96 L152.28 124.56 L152.63 124.17 L152.98 123.80 L153.32 123.45 L153.67 123.12 L154.02 122.81 L154.37 122.53 L154.72 122.27 L155.06 122.03 L155.41 121.81 L155.76 121.60 L156.11 121.42 L156.45 121.25 L156.80 121.11 L157.15 120.99 L157.50 120.90 L157.85 120.82 L158.19 120.78 L158.54 120.76 L158.89 120.77 L159.24 120.79 L159.58 120.84 L159.93 120.90 L160.28 120.97 L160.63 121.08 L160.98 121.21 L161.32 121.37 L161.67 121.57 L162.02 121.81 L162.37 122.09 L162.71 122.41 L163.06 122.79 L163.41 123.22 L163.76 123.69 L164.11 124.19 L164.45 124.71 L164.80 125.27 L165.15 125.87 L165.50 126.51 L165.85 127.20 L166.19 127.94 L166.54 128.74 L166.89 129.59 L167.24 130.51 L167.58 131.51 L167.93 132.57 L168.28 133.69 L168.63 134.87 L168.98 136.11 L169.32 137.42 L169.67 138.81 L170.02 140.27 L170.37 141.82 L170.71 143.47 L171.06 145.24 L171.41 147.12 L171.76 149.15 L172.11 151.34 L172.45 153.71 L172.80 156.30 L173.15 159.14 L173.50 162.28 L173.85 165.80 L174.19 169.80 L174.54 174.42 L174.89 179.90 L175.24 186.60 L175.58 195.26 L175.93 207.46 L176.28 228.33 L176.30 276.00"/>
<path d="M176.96 276.00 L176.98 228.33 L177.32 207.46 L177.67 195.26 L178.02 186.60 L178.37 179.90 L178.71 174.42 L179.06 169.80 L179.41 165.80 L179.76 162.28 L180.11 159.14 L180.45 156.30 L180.80 153.71 L181.15 151.34 L181.50 149.15 L181.84 147.12 L182.19 145.24 L182.54 143.47 L182.89 141.82 L183.24 140.27 L183.58 138.81 L183.93 137.42 L184.28 136.11 L184.63 134.87 L184.98 133.69 L185.32 132.57 L185.67 131.51 L186.02 130.51 L186.37 129.59 L186.71 128.74 L187.06 127.94 L187.41 127.20 L187.76 126.51 L188.11 125.87 L188.45 125.27 L188.80 124.71 L189.15 124.19 L189.50 123.69 L189.84 123.22 L190.19 122.79 L190.54 122.41 L190.89 122.09 L191.24 121.81 L191.58 121.57 L191.93 121.37 L192.28 121.21 L192.63 121.08 L192.98 120.97 L193.32 120.90 L193.67 120.84 L194.02 120.79 L194.37 120.77 L194.71 120.76 L195.06 120.78 L195.41 120.82 L195.76 120.90 L196.11 120.99 L196.45 121.11 L196.80 121.25 L197.15 121.42 L197.50 121.60 L197.84 121.81 L198.19 122.03 L198.54 122.27 L198.89 122.53 L199.24 122.81 L199.58 123.12 L199.93 123.45 L200.28 123.80 L200.63 124.17 L200.98 124.56 L201.32 124.96 L201.67 125.39 L202.02 125.84 L202.37 126.30 L202.71 126.79 L203.06 127.29 L203.41 127.80 L203.76 128.35 L204.11 128.93 L204.45 129.53 L204.80 130.15 L205.15 130.79 L205.50 131.45 L205.84 132.11 L206.19 132.79 L206.54 133.47 L206.89 134.14 L207.24 134.82 L207.58 135.49 L207.93 136.16 L208.28 136.84 L208.63 137.52 L208.97 138.20 L209.32 138.89 L209.67 139.59 L210.02 140.29 L210.37 140.99 L210.71 141.70 L211.06 142.41 L211.41 143.12 L211.76 143.83 L212.11 144.54 L212.45 145.25 L212.80 145.96 L213.15 146.67 L213.50 147.38 L213.84 148.10 L214.19 148.82 L214.54 149.55 L214.89 150.28 L215.24 151.03 L215.58 151.78 L215.93 152.55 L216.28 153.33 L216.63 154.13 L216.97 154.94 L217.32 155.78 L217.67 156.62 L218.02 157.48 L218.37 158.35 L218.71 159.23 L219.06 160.11 L219.41 161.00 L219.76 161.89 L220.11 162.78 L220.45 163.68 L220.80 164.57 L221.15 165.46 L221.50 166.36 L221.84 167.27 L222.19 168.18 L222.54 169.10 L222.89 170.03 L223.24 170.96 L223.58 171.90 L223.93 172.83 L224.28 173.77 L224.63 174.70 L224.97 175.64 L225.32 176.57 L225.67 177.51 L226.02 178.47 L226.37 179.44 L226.71 180.42 L227.06 181.40 L227.41 182.40 L227.76 183.39 L228.10 184.38 L228.45 185.38 L228.80 186.36 L229.15 187.34 L229.50 188.31 L229.84 189.27 L230.19 190.23 L230.54 191.21 L230.89 192.21 L231.24 193.22 L231.58 194.24 L231.93 195.27 L232.28 196.32 L232.63 197.38 L232.97 198.46 L233.32 199.55 L233.67 200.64 L234.02 201.76 L234.37 202.89 L234.71 204.05 L235.06 205.24 L235.41 206.48 L235.76 207.75 L236.10 209.07 L236.45 210.43 L236.80 211.83 L237.15 213.29 L237.50 214.79 L237.84 216.36 L238.19 217.98 L238.54 219.67 L238.89 221.43 L239.24 223.29 L239.58 225.24 L239.93 227.31 L240.28 229.50 L240.63 231.83 L240.97 234.32 L241.32 236.98 L241.67 239.84 L242.02 242.94 L242.37 246.32 L242.71 250.02 L243.06 254.12 L243.41 258.71 L243.76 263.92 L244.10 269.94 L244.40 276.00"/>
<path d="M247.98 276.00 L248.28 269.94 L248.63 263.92 L248.97 258.71 L249.32 254.12 L249.67 250.02 L250.02 246.32 L250.37 242.94 L250.71 239.84 L251.06 236.98 L251.41 234.32 L251.76 231.83 L252.10 229.50 L252.45 227.31 L252.80 225.24 L253.15 223.29 L253.50 221.43 L253.84 219.67 L254.19 217.98 L254.54 216.36 L254.89 214.79 L255.23 213.29 L255.58 211.83 L255.93 210.43 L256.28 209.07 L256.63 207.75 L256.97 206.48 L257.32 205.24 L257.67 204.05 L258.02 202.89 L258.37 201.76 L258.71 200.64 L259.06 199.55 L259.41 198.46 L259.76 197.38 L260.10 196.32 L260.45 195.27 L260.80 194.24 L261.15 193.22 L261.50 192.21 L261.84 191.21 L262.19 190.23 L262.54 189.27 L262.89 188.31 L263.23 187.34 L263.58 186.36 L263.93 185.38 L264.28 184.38 L264.63 183.39 L264.97 182.40 L265.32 181.40 L265.67 180.42 L266.02 179.44 L266.37 178.47 L266.71 177.51 L267.06 176.57 L267.41 175.64 L267.76 174.70 L268.10 173.77 L268.45 172.83 L268.80 171.90 L269.15 170.96 L269.50 170.03 L269.84 169.10 L270.19 168.18 L270.54 167.27 L270.89 166.36 L271.23 165.46 L271.58 164.57 L271.93 163.68 L272.28 162.78 L272.63 161.89 L272.97 161.00 L273.32 160.11 L273.67 159.23 L274.02 158.35 L274.36 157.48 L274.71 156.62 L275.06 155.78 L275.41 154.94 L275.76 154.13 L276.10 153.33 L276.45 152.55 L276.80 151.78 L277.15 151.03 L277.50 150.28 L277.84 149.55 L278.19 148.82 L278.54 148.10 L278.89 147.38 L279.23 146.67 L279.58 145.96 L279.93 145.25 L280.28 144.54 L280.63 143.83 L280.97 143.12 L281.32 142.41 L281.67 141.70 L282.02 140.99 L282.36 140.29 L282.71 139.59 L283.06 138.89 L283.41 138.20 L283.76 137.52 L284.10 136.84 L284.45 136.16 L284.80 135.49 L285.15 134.82 L285.50 134.14 L285.84 133.47 L286.19 132.79 L286.54 132.11 L286.89 131.45 L287.23 130.79 L287.58 130.15 L287.93 129.53 L288.28 128.93 L288.63 128.35 L288.97 127.80 L289.32 127.29 L289.67 126.79 L290.02 126.30 L290.36 125.84 L290.71 125.39 L291.06 124.96 L291.41 124.56 L291.76 124.17 L292.10 123.80 L292.45 123.45 L292.80 123.12 L293.15 122.81 L293.49 122.53 L293.84 122.27 L294.19 122.03 L294.54 121.81 L294.89 121.60 L295.23 121.42 L295.58 121.25 L295.93 121.11 L296.28 120.99 L296.63 120.90 L296.97 120.82 L297.32 120.78 L297.67 120.76 L298.02 120.77 L298.36 120.79 L298.71 120.84 L299.06 120.90 L299.41 120.97 L299.76 121.08 L300.10 121.21 L300.45 121.37 L300.80 121.57 L301.15 121.81 L301.49 122.09 L301.84 122.41 L302.19 122.79 L302.54 123.22 L302.89 123.69 L303.23 124.19 L303.58 124.71 L303.93 125.27 L304.28 125.87 L304.63 126.51 L304.97 127.20 L305.32 127.94 L305.67 128.74 L306.02 129.59 L306.36 130.51 L306.71 131.51 L307.06 132.57 L307.41 133.69 L307.76 134.87 L308.10 136.11 L308.45 137.42 L308.80 138.81 L309.15 140.27 L309.49 141.82 L309.84 143.47 L310.19 145.24 L310.54 147.12 L310.89 149.15 L311.23 151.34 L311.58 153.71 L311.93 156.30 L312.28 159.14 L312.62 162.28 L312.97 165.80 L313.32 169.80 L313.67 174.42 L314.02 179.90 L314.36 186.60 L314.71 195.26 L315.06 207.46 L315.30 220.46"/>
</g>
<path d="M37.50 57.61 L37.85 57.89 L38.20 58.13 L38.54 58.35 L38.89 58.53 L39.24 58.70 L39.59 58.84 L39.93 58.96 L40.28 59.06 L40.63 59.14 L40.98 59.21 L41.33 59.26 L41.67 59.30 L42.02 59.33 L42.37 59.36 L42.72 59.37 L43.07 59.37 L43.41 59.36 L43.76 59.35 L44.11 59.34 L44.46 59.31 L44.80 59.28 L45.15 59.25 L45.50 59.21 L45.85 59.17 L46.20 59.13 L46.54 59.08 L46.89 59.03 L47.24 58.98 L47.59 58.93 L47.93 58.88 L48.28 58.83 L48.63 58.78 L48.98 58.72 L49.33 58.67 L49.67 58.62 L50.02 58.56 L50.37 58.50 L50.72 58.44 L51.06 58.38 L51.41 58.32 L51.76 58.27 L52.11 58.21 L52.46 58.15 L52.80 58.10 L53.15 58.04 L53.50 57.98 L53.85 57.92 L54.20 57.86 L54.54 57.80 L54.89 57.73 L55.24 57.66 L55.59 57.59 L55.93 57.52 L56.28 57.44 L56.63 57.37 L56.98 57.29 L57.33 57.20 L57.67 57.12 L58.02 57.03 L58.37 56.94 L58.72 56.85 L59.06 56.75 L59.41 56.65 L59.76 56.55 L60.11 56.44 L60.46 56.33 L60.80 56.22 L61.15 56.10 L61.50 55.98 L61.85 55.86 L62.20 55.73 L62.54 55.60 L62.89 55.46 L63.24 55.32 L63.59 55.18 L63.93 55.03 L64.28 54.88 L64.63 54.73 L64.98 54.57 L65.33 54.41 L65.67 54.25 L66.02 54.08 L66.37 53.91 L66.72 53.73 L67.06 53.55 L67.41 53.37 L67.76 53.18 L68.11 52.99 L68.46 52.79 L68.80 52.58 L69.15 52.38 L69.50 52.17 L69.85 51.95 L70.20 51.74 L70.54 51.52 L70.89 51.30 L71.24 51.07 L71.59 50.84 L71.93 50.61 L72.28 50.38 L72.63 50.15 L72.98 49.91 L73.33 49.67 L73.67 49.43 L74.02 49.19 L74.37 48.95 L74.72 48.70 L75.06 48.46 L75.41 48.21 L75.76 47.97 L76.11 47.72 L76.46 47.48 L76.80 47.23 L77.15 46.98 L77.50 46.74 L77.85 46.49 L78.19 46.25 L78.54 46.01 L78.89 45.76 L79.24 45.52 L79.59 45.28 L79.93 45.04 L80.28 44.80 L80.63 44.56 L80.98 44.33 L81.33 44.09 L81.67 43.86 L82.02 43.62 L82.37 43.39 L82.72 43.16 L83.06 42.94 L83.41 42.71 L83.76 42.49 L84.11 42.27 L84.46 42.05 L84.80 41.83 L85.15 41.62 L85.50 41.41 L85.85 41.20 L86.19 40.99 L86.54 40.79 L86.89 40.59 L87.24 40.39 L87.59 40.20 L87.93 40.00 L88.28 39.82 L88.63 39.63 L88.98 39.45 L89.33 39.27 L89.67 39.09 L90.02 38.92 L90.37 38.75 L90.72 38.58 L91.06 38.42 L91.41 38.26 L91.76 38.10 L92.11 37.95 L92.46 37.80 L92.80 37.65 L93.15 37.51 L93.50 37.37 L93.85 37.24 L94.19 37.11 L94.54 36.98 L94.89 36.86 L95.24 36.74 L95.59 36.63 L95.93 36.51 L96.28 36.41 L96.63 36.30 L96.98 36.20 L97.32 36.11 L97.67 36.02 L98.02 35.93 L98.37 35.84 L98.72 35.77 L99.06 35.69 L99.41 35.62 L99.76 35.55 L100.11 35.49 L100.46 35.43 L100.80 35.37 L101.15 35.32 L101.50 35.27 L101.85 35.23 L102.19 35.18 L102.54 35.15 L102.89 35.12 L103.24 35.09 L103.59 35.06 L103.93 35.04 L104.28 35.02 L104.63 35.01 L104.98 34.99 L105.32 34.99 L105.67 34.98 L106.02 34.98 L106.37 34.98 L106.72 34.98 L107.06 34.98 L107.41 34.98 L107.76 34.98 L108.11 34.98 L108.46 34.98 L108.80 34.99 L109.15 34.99 L109.50 35.01 L109.85 35.02 L110.19 35.04 L110.54 35.06 L110.89 35.09 L111.24 35.12 L111.59 35.15 L111.93 35.18 L112.28 35.23 L112.63 35.27 L112.98 35.32 L113.32 35.37 L113.67 35.43 L114.02 35.49 L114.37 35.55 L114.72 35.62 L115.06 35.69 L115.41 35.77 L115.76 35.84 L116.11 35.93 L116.45 36.02 L116.80 36.11 L117.15 36.20 L117.50 36.30 L117.85 36.41 L118.19 36.51 L118.54 36.63 L118.89 36.74 L119.24 36.86 L119.59 36.98 L119.93 37.11 L120.28 37.24 L120.63 37.37 L120.98 37.51 L121.32 37.65 L121.67 37.80 L122.02 37.95 L122.37 38.10 L122.72 38.26 L123.06 38.42 L123.41 38.58 L123.76 38.75 L124.11 38.92 L124.45 39.09 L124.80 39.27 L125.15 39.45 L125.50 39.63 L125.85 39.82 L126.19 40.00 L126.54 40.20 L126.89 40.39 L127.24 40.59 L127.59 40.79 L127.93 40.99 L128.28 41.20 L128.63 41.41 L128.98 41.62 L129.32 41.83 L129.67 42.05 L130.02 42.27 L130.37 42.49 L130.72 42.71 L131.06 42.94 L131.41 43.16 L131.76 43.39 L132.11 43.62 L132.45 43.86 L132.80 44.09 L133.15 44.33 L133.50 44.56 L133.85 44.80 L134.19 45.04 L134.54 45.28 L134.89 45.52 L135.24 45.76 L135.59 46.01 L135.93 46.25 L136.28 46.49 L136.63 46.74 L136.98 46.98 L137.32 47.23 L137.67 47.48 L138.02 47.72 L138.37 47.97 L138.72 48.21 L139.06 48.46 L139.41 48.70 L139.76 48.95 L140.11 49.19 L140.45 49.43 L140.80 49.67 L141.15 49.91 L141.50 50.15 L141.85 50.38 L142.19 50.61 L142.54 50.84 L142.89 51.07 L143.24 51.30 L143.58 51.52 L143.93 51.74 L144.28 51.95 L144.63 52.17 L144.98 52.38 L145.32 52.58 L145.67 52.79 L146.02 52.99 L146.37 53.18 L146.72 53.37 L147.06 53.55 L147.41 53.73 L147.76 53.91 L148.11 54.08 L148.45 54.25 L148.80 54.41 L149.15 54.57 L149.50 54.73 L149.85 54.88 L150.19 55.03 L150.54 55.18 L150.89 55.32 L151.24 55.46 L151.58 55.60 L151.93 55.73 L152.28 55.86 L152.63 55.98 L152.98 56.10 L153.32 56.22 L153.67 56.33 L154.02 56.44 L154.37 56.55 L154.72 56.65 L155.06 56.75 L155.41 56.85 L155.76 56.94 L156.11 57.03 L156.45 57.12 L156.80 57.20 L157.15 57.29 L157.50 57.37 L157.85 57.44 L158.19 57.52 L158.54 57.59 L158.89 57.66 L159.24 57.73 L159.58 57.80 L159.93 57.86 L160.28 57.92 L160.63 57.98 L160.98 58.04 L161.32 58.10 L161.67 58.15 L162.02 58.21 L162.37 58.27 L162.71 58.32 L163.06 58.38 L163.41 58.44 L163.76 58.50 L164.11 58.56 L164.45 58.62 L164.80 58.67 L165.15 58.72 L165.50 58.78 L165.85 58.83 L166.19 58.88 L166.54 58.93 L166.89 58.98 L167.24 59.03 L167.58 59.08 L167.93 59.13 L168.28 59.17 L168.63 59.21 L168.98 59.25 L169.32 59.28 L169.67 59.31 L170.02 59.34 L170.37 59.35 L170.71 59.36 L171.06 59.37 L171.41 59.37 L171.76 59.36 L172.11 59.33 L172.45 59.30 L172.80 59.26 L173.15 59.21 L173.50 59.14 L173.85 59.06 L174.19 58.96 L174.54 58.84 L174.89 58.70 L175.24 58.53 L175.58 58.35 L175.93 58.13 L176.28 57.89 L176.63 57.61 L176.98 57.89 L177.32 58.13 L177.67 58.35 L178.02 58.53 L178.37 58.70 L178.71 58.84 L179.06 58.96 L179.41 59.06 L179.76 59.14 L180.11 59.21 L180.45 59.26 L180.80 59.30 L181.15 59.33 L181.50 59.36 L181.84 59.37 L182.19 59.37 L182.54 59.36 L182.89 59.35 L183.24 59.34 L183.58 59.31 L183.93 59.28 L184.28 59.25 L184.63 59.21 L184.98 59.17 L185.32 59.13 L185.67 59.08 L186.02 59.03 L186.37 58.98 L186.71 58.93 L187.06 58.88 L187.41 58.83 L187.76 58.78 L188.11 58.72 L188.45 58.67 L188.80 58.62 L189.15 58.56 L189.50 58.50 L189.84 58.44 L190.19 58.38 L190.54 58.32 L190.89 58.27 L191.24 58.21 L191.58 58.15 L191.93 58.10 L192.28 58.04 L192.63 57.98 L192.98 57.92 L193.32 57.86 L193.67 57.80 L194.02 57.73 L194.37 57.66 L194.71 57.59 L195.06 57.52 L195.41 57.44 L195.76 57.37 L196.11 57.29 L196.45 57.20 L196.80 57.12 L197.15 57.03 L197.50 56.94 L197.84 56.85 L198.19 56.75 L198.54 56.65 L198.89 56.55 L199.24 56.44 L199.58 56.33 L199.93 56.22 L200.28 56.10 L200.63 55.98 L200.98 55.86 L201.32 55.73 L201.67 55.60 L202.02 55.46 L202.37 55.32 L202.71 55.18 L203.06 55.03 L203.41 54.88 L203.76 54.73 L204.11 54.57 L204.45 54.41 L204.80 54.25 L205.15 54.08 L205.50 53.91 L205.84 53.73 L206.19 53.55 L206.54 53.37 L206.89 53.18 L207.24 52.99 L207.58 52.79 L207.93 52.58 L208.28 52.38 L208.63 52.17 L208.97 51.95 L209.32 51.74 L209.67 51.52 L210.02 51.30 L210.37 51.07 L210.71 50.84 L211.06 50.61 L211.41 50.38 L211.76 50.15 L212.11 49.91 L212.45 49.67 L212.80 49.43 L213.15 49.19 L213.50 48.95 L213.84 48.70 L214.19 48.46 L214.54 48.21 L214.89 47.97 L215.24 47.72 L215.58 47.48 L215.93 47.23 L216.28 46.98 L216.63 46.74 L216.97 46.49 L217.32 46.25 L217.67 46.01 L218.02 45.76 L218.37 45.52 L218.71 45.28 L219.06 45.04 L219.41 44.80 L219.76 44.56 L220.11 44.33 L220.45 44.09 L220.80 43.86 L221.15 43.62 L221.50 43.39 L221.84 43.16 L222.19 42.94 L222.54 42.71 L222.89 42.49 L223.24 42.27 L223.58 42.05 L223.93 41.83 L224.28 41.62 L224.63 41.41 L224.97 41.20 L225.32 40.99 L225.67 40.79 L226.02 40.59 L226.37 40.39 L226.71 40.20 L227.06 40.00 L227.41 39.82 L227.76 39.63 L228.10 39.45 L228.45 39.27 L228.80 39.09 L229.15 38.92 L229.50 38.75 L229.84 38.58 L230.19 38.42 L230.54 38.26 L230.89 38.10 L231.24 37.95 L231.58 37.80 L231.93 37.65 L232.28 37.51 L232.63 37.37 L232.97 37.24 L233.32 37.11 L233.67 36.98 L234.02 36.86 L234.37 36.74 L234.71 36.63 L235.06 36.51 L235.41 36.41 L235.76 36.30 L236.10 36.20 L236.45 36.11 L236.80 36.02 L237.15 35.93 L237.50 35.84 L237.84 35.77 L238.19 35.69 L238.54 35.62 L238.89 35.55 L239.24 35.49 L239.58 35.43 L239.93 35.37 L240.28 35.32 L240.63 35.27 L240.97 35.23 L241.32 35.18 L241.67 35.15 L242.02 35.12 L242.37 35.09 L242.71 35.06 L243.06 35.04 L243.41 35.02 L243.76 35.01 L244.10 34.99 L244.45 34.99 L244.80 34.98 L245.15 34.98 L245.50 34.98 L245.84 34.98 L246.19 34.98 L246.54 34.98 L246.89 34.98 L247.23 34.98 L247.58 34.98 L247.93 34.99 L248.28 34.99 L248.63 35.01 L248.97 35.02 L249.32 35.04 L249.67 35.06 L250.02 35.09 L250.37 35.12 L250.71 35.15 L251.06 35.18 L251.41 35.23 L251.76 35.27 L252.10 35.32 L252.45 35.37 L252.80 35.43 L253.15 35.49 L253.50 35.55 L253.84 35.62 L254.19 35.69 L254.54 35.77 L254.89 35.84 L255.23 35.93 L255.58 36.02 L255.93 36.11 L256.28 36.20 L256.63 36.30 L256.97 36.41 L257.32 36.51 L257.67 36.63 L258.02 36.74 L258.37 36.86 L258.71 36.98 L259.06 37.11 L259.41 37.24 L259.76 37.37 L260.10 37.51 L260.45 37.65 L260.80 37.80 L261.15 37.95 L261.50 38.10 L261.84 38.26 L262.19 38.42 L262.54 38.58 L262.89 38.75 L263.23 38.92 L263.58 39.09 L263.93 39.27 L264.28 39.45 L264.63 39.63 L264.97 39.82 L265.32 40.00 L265.67 40.20 L266.02 40.39 L266.37 40.59 L266.71 40.79 L267.06 40.99 L267.41 41.20 L267.76 41.41 L268.10 41.62 L268.45 41.83 L268.80 42.05 L269.15 42.27 L269.50 42.49 L269.84 42.71 L270.19 42.94 L270.54 43.16 L270.89 43.39 L271.23 43.62 L271.58 43.86 L271.93 44.09 L272.28 44.33 L272.63 44.56 L272.97 44.80 L273.32 45.04 L273.67 45.28 L274.02 45.52 L274.36 45.76 L274.71 46.01 L275.06 46.25 L275.41 46.49 L275.76 46.74 L276.10 46.98 L276.45 47.23 L276.80 47.48 L277.15 47.72 L277.50 47.97 L277.84 48.21 L278.19 48.46 L278.54 48.70 L278.89 48.95 L279.23 49.19 L279.58 49.43 L279.93 49.67 L280.28 49.91 L280.63 50.15 L280.97 50.38 L281.32 50.61 L281.67 50.84 L282.02 51.07 L282.36 51.30 L282.71 51.52 L283.06 51.74 L283.41 51.95 L283.76 52.17 L284.10 52.38 L284.45 52.58 L284.80 52.79 L285.15 52.99 L285.50 53.18 L285.84 53.37 L286.19 53.55 L286.54 53.73 L286.89 53.91 L287.23 54.08 L287.58 54.25 L287.93 54.41 L288.28 54.57 L288.63 54.73 L288.97 54.88 L289.32 55.03 L289.67 55.18 L290.02 55.32 L290.36 55.46 L290.71 55.60 L291.06 55.73 L291.41 55.86 L291.76 55.98 L292.10 56.10 L292.45 56.22 L292.80 56.33 L293.15 56.44 L293.49 56.55 L293.84 56.65 L294.19 56.75 L294.54 56.85 L294.89 56.94 L295.23 57.03 L295.58 57.12 L295.93 57.20 L296.28 57.29 L296.63 57.37 L296.97 57.44 L297.32 57.52 L297.67 57.59 L298.02 57.66 L298.36 57.73 L298.71 57.80 L299.06 57.86 L299.41 57.92 L299.76 57.98 L300.10 58.04 L300.45 58.10 L300.80 58.15 L301.15 58.21 L301.49 58.27 L301.84 58.32 L302.19 58.38 L302.54 58.44 L302.89 58.50 L303.23 58.56 L303.58 58.62 L303.93 58.67 L304.28 58.72 L304.63 58.78 L304.97 58.83 L305.32 58.88 L305.67 58.93 L306.02 58.98 L306.36 59.03 L306.71 59.08 L307.06 59.13 L307.41 59.17 L307.76 59.21 L308.10 59.25 L308.45 59.28 L308.80 59.31 L309.15 59.34 L309.49 59.35 L309.84 59.36 L310.19 59.37 L310.54 59.37 L310.89 59.36 L311.23 59.33 L311.58 59.30 L311.93 59.26 L312.28 59.21 L312.62 59.14 L312.97 59.06 L313.32 58.96 L313.67 58.84 L314.02 58.70 L314.36 58.53 L314.71 58.35 L315.06 58.13 L315.41 57.89 L315.76 57.61" fill="none" stroke="#000" stroke-width="2.4" stroke-linejoin="miter" stroke-miterlimit="10"/>
<text x="89.3" y="11.8" font-size="10" textLength="202.6" lengthAdjust="spacingAndGlyphs" id="title">time-domain Core-loss Simulation of 65CS400</text>
<text x="37.70" y="288.5" font-size="10" text-anchor="middle">0</text>
<text x="81.99" y="288.5" font-size="10" text-anchor="middle">1</text>
<text x="126.27" y="288.5" font-size="10" text-anchor="middle">2</text>
<text x="170.56" y="288.5" font-size="10" text-anchor="middle">3</text>
<text x="214.84" y="288.5" font-size="10" text-anchor="middle">4</text>
<text x="259.13" y="288.5" font-size="10" text-anchor="middle">5</text>
<text x="303.41" y="288.5" font-size="10" text-anchor="middle">6</text>
<text x="347.70" y="288.5" font-size="10" text-anchor="middle">7</text>
<text x="16.5" y="279.80" font-size="10">10<tspan font-size="7" dy="-6.1" dx="-0.4">-1</tspan></text>
<text x="16.5" y="210.46" font-size="10">10<tspan font-size="7" dy="-6.1" dx="-0.4">0</tspan></text>
<text x="16.5" y="141.11" font-size="10">10<tspan font-size="7" dy="-6.1" dx="-0.4">1</tspan></text>
<text x="16.5" y="71.77" font-size="10">10<tspan font-size="7" dy="-6.1" dx="-0.4">2</tspan></text>
<text x="192.7" y="300" font-size="10" text-anchor="middle">Phase (rad)</text>
<text transform="translate(10 147.6) rotate(-90)" font-size="10" text-anchor="middle">Core loss (W/kg)</text>
</svg></body></html>
